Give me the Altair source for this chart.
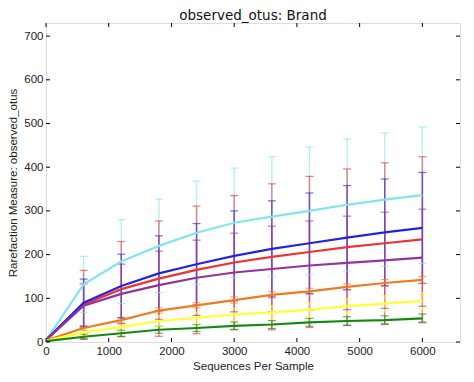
import altair as alt
import pandas as pd

# ---- data ----
x_vals = [10, 600, 1200, 1800, 2400, 3000, 3600, 4200, 4800, 5400, 6000]

series_names = ["cyan", "red", "blue", "purple", "orange", "yellow", "green"]
series_colors = ["#7fe6ef", "#f03232", "#2424e0", "#9433a0", "#f07a22", "#ffff33", "#128a12"]

means = {
    "cyan":   [6, 132, 184, 220, 250, 273, 287, 300, 314, 326, 336],
    "blue":   [6, 90, 128, 157, 178, 197, 213, 226, 239, 251, 261],
    "red":    [6, 86, 121, 145, 165, 182, 195, 206, 217, 226, 235],
    "purple": [6, 83, 110, 130, 147, 159, 167, 175, 181, 187, 193],
    "orange": [4, 32, 50, 72, 84, 96, 108, 116, 126, 135, 142],
    "yellow": [3, 22, 34, 48, 55, 63, 68, 74, 82, 88, 94],
    "green":  [2, 12, 20, 28, 32, 37, 40, 45, 48, 50, 54],
}
errors = {
    "cyan":   [0, 64, 96, 107, 118, 125, 137, 146, 151, 152, 156],
    "red":    [0, 78, 109, 132, 146, 153, 167, 173, 179, 184, 189],
    "blue":   [0, 54, 73, 86, 93, 103, 110, 115, 119, 122, 127],
    "purple": [0, 50, 68, 78, 86, 90, 98, 102, 107, 110, 111],
    "orange": [0, 5, 6, 6, 6, 7, 7, 7, 7, 8, 8],
    "yellow": [0, 8, 10, 12, 13, 14, 15, 16, 17, 18, 19],
    "green":  [0, 6, 7, 8, 8, 9, 9, 9, 10, 10, 10],
}

x_ticks = [0, 1000, 2000, 3000, 4000, 5000, 6000]
y_ticks = [0, 100, 200, 300, 400, 500, 600, 700]

rows = []
for i, name in enumerate(series_names):
    for xv, m, e in zip(x_vals, means[name], errors[name]):
        rows.append({"series": name, "order": i, "x": xv, "y": m,
                     "lo": m - e, "hi": m + e, "err": e})
df = pd.DataFrame(rows)

W, H = 414, 319
FONT = "DejaVu Sans"
FS = 11.5

xscale = alt.Scale(domain=[0, 6600], nice=False, zero=False)
yscale = alt.Scale(domain=[0, 730], nice=False, zero=False)
X_AXIS = alt.Axis(values=x_ticks, format="d", grid=False, ticks=False, domain=False,
                  labelPadding=3, titlePadding=4, labelFontSize=FS,
                  titleFontSize=FS, titleFontWeight="normal", labelColor="#222",
                  titleColor="#222", labelFlush=False)
Y_AXIS = alt.Axis(values=y_ticks, format="d", grid=False, ticks=False, domain=False,
                  labelPadding=3, titlePadding=5, labelFontSize=FS,
                  titleFontSize=FS, titleFontWeight="normal", labelColor="#222",
                  titleColor="#222", labelFlush=False)
XT = "Sequences Per Sample"
YT = "Rarefaction Measure: observed_otus"

color = alt.Color("series:N", scale=alt.Scale(domain=series_names, range=series_colors),
                  legend=None)

base = alt.Chart(df)
errdf = base.transform_filter("datum.err > 0")

bars = errdf.mark_rule(strokeWidth=1.5, opacity=0.55).encode(
    x=alt.X("x:Q", scale=xscale, axis=X_AXIS, title=XT),
    y=alt.Y("lo:Q", scale=yscale, axis=Y_AXIS, title=YT),
    y2="hi:Q",
    color=color,
    order="order:Q",
)
caps_hi = errdf.mark_tick(orient="horizontal", size=8, thickness=1.2, opacity=0.65).encode(
    x=alt.X("x:Q", scale=xscale, axis=X_AXIS, title=XT),
    y=alt.Y("hi:Q", scale=yscale, axis=Y_AXIS, title=YT),
    color=color,
    order="order:Q",
)
caps_lo = errdf.mark_tick(orient="horizontal", size=8, thickness=1.2, opacity=0.65).encode(
    x=alt.X("x:Q", scale=xscale, axis=X_AXIS, title=XT),
    y=alt.Y("lo:Q", scale=yscale, axis=Y_AXIS, title=YT),
    color=color,
    order="order:Q",
)
lines = base.mark_line(strokeWidth=2.2).encode(
    x=alt.X("x:Q", scale=xscale, axis=X_AXIS, title=XT),
    y=alt.Y("y:Q", scale=yscale, axis=Y_AXIS, title=YT),
    color=color,
    order="x:Q",
)

xt = alt.Chart(pd.DataFrame({"x": x_ticks}))
yt = alt.Chart(pd.DataFrame({"y": y_ticks}))
xb = xt.mark_rule(color="black", strokeWidth=1).encode(
    x=alt.X("x:Q", scale=xscale, axis=X_AXIS, title=XT),
    y=alt.value(H), y2=alt.value(H - 4))
xtop = xt.mark_rule(color="black", strokeWidth=1).encode(
    x=alt.X("x:Q", scale=xscale, axis=X_AXIS, title=XT),
    y=alt.value(0), y2=alt.value(4))
yl = yt.mark_rule(color="black", strokeWidth=1).encode(
    y=alt.Y("y:Q", scale=yscale, axis=Y_AXIS, title=YT),
    x=alt.value(0), x2=alt.value(4))
yr = yt.mark_rule(color="black", strokeWidth=1).encode(
    y=alt.Y("y:Q", scale=yscale, axis=Y_AXIS, title=YT),
    x=alt.value(W - 4), x2=alt.value(W))

chart = alt.layer(bars, caps_hi, caps_lo, lines, xb, xtop, yl, yr).properties(
    width=W, height=H,
    title=alt.TitleParams("observed_otus: Brand", fontSize=13.5, fontWeight="normal",
                          font=FONT, anchor="middle", offset=0, color="#111"),
    autosize=alt.AutoSizeParams(type="none"),
    padding={"left": 38, "top": 15, "right": 6, "bottom": 34},
).configure_view(stroke="#222", strokeWidth=1).configure_axis(
    labelFont=FONT, titleFont=FONT
).configure(background="white")

chart.save("out.html", embed_options={"renderer": "svg", "actions": False})
